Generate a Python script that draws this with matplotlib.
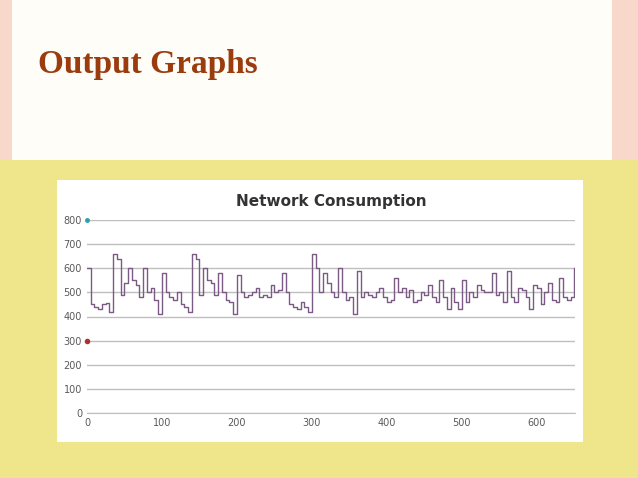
import matplotlib.pyplot as plt
from matplotlib.patches import Rectangle

# Network consumption sampled every 5 units
xs = list(range(0, 655, 5))
usage = [600, 450, 440, 430, 450, 455, 420, 660, 640, 490, 540, 600, 550, 530, 480, 600,
         500, 520, 470, 410, 580, 500, 480, 470, 500, 450, 440, 420, 660, 640, 490, 600,
         550, 540, 490, 580, 500, 470, 460, 410, 570, 500, 480, 490, 500, 520, 480, 490,
         480, 530, 500, 510, 580, 500, 450, 440, 430, 460, 440, 420, 660, 600, 500, 580,
         540, 500, 480, 600, 500, 470, 480, 410, 590, 480, 500, 490, 480, 500, 520, 480,
         460, 470, 560, 500, 520, 480, 510, 460, 470, 500, 490, 530, 480, 460, 550, 480,
         430, 520, 460, 430, 550, 460, 500, 480, 530, 510, 500, 500, 580, 490, 500, 460,
         590, 480, 460, 520, 510, 480, 430, 530, 520, 450, 500, 540, 470, 460, 560, 480,
         470, 480, 600]
xs = xs[:len(usage)]

fig = plt.figure(figsize=(6.38, 4.78), dpi=100)
fig.patch.set_facecolor('white')

def px(x0, y0, w, h, **kw):
    fig.patches.append(Rectangle((x0 / 638, 1 - (y0 + h) / 478), w / 638, h / 478,
                                 transform=fig.transFigure, zorder=-10, **kw))

# slide background
px(0, 0, 638, 160, color='#fffdf8', lw=0)
px(0, 0, 12, 160, color='#f9d8cc', lw=0)
px(612, 0, 26, 160, color='#f9d8cc', lw=0)
px(0, 160, 638, 318, color='#efe68c', lw=0)
px(57, 180, 526, 262, color='white', lw=0)

fig.text(38 / 638, 1 - 65 / 478, 'Output Graphs', family='Liberation Serif',
         fontweight='bold', fontsize=24, color='#9a3c0e', va='center')

ax = fig.add_axes([87 / 638, 1 - 413 / 478, 488 / 638, 193 / 478])
ax.set_zorder(5)
ax.step(xs, usage, where='post', color='#7b5b85', lw=1)
ax.plot([0], [800], 'o', color='#2aa0b0', ms=2.5, clip_on=False)
ax.plot([0], [300], 'o', color='#b03030', ms=3, clip_on=False)
ax.set_xlim(0, 651)
ax.set_ylim(0, 800)
ax.set_yticks(range(0, 801, 100))
ax.set_xticks(range(0, 601, 100))
ax.grid(axis='y', color='#bfbfbf', lw=1)
ax.set_axisbelow(True)
for s in ['top', 'right', 'left']:
    ax.spines[s].set_visible(False)
ax.spines['bottom'].set_color('#bfbfbf')
ax.tick_params(labelsize=7, colors='#595959', length=0)
ax.set_title('Network Consumption', fontsize=11, fontweight='bold', color='#333333', pad=10)

fig.savefig('out.png', dpi=100)
